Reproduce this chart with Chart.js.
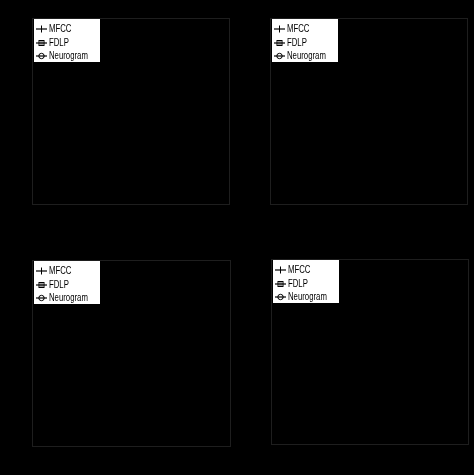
<!DOCTYPE html>
<html>
<head>
<meta charset="utf-8">
<script src="https://cdn.jsdelivr.net/npm/chart.js@4.4.1/dist/chart.umd.min.js"></script>
<style>
  html, body { margin: 0; padding: 0; background: #000; }
  body { width: 474px; height: 475px; position: relative; overflow: hidden; }
  .panel { position: absolute; width: 237px; height: 238px; }
  canvas { display: block; }
</style>
</head>
<body>
<div class="panel" style="left:0;top:0"><canvas id="c1" width="237" height="237"></canvas></div>
<div class="panel" style="left:237px;top:0"><canvas id="c2" width="237" height="237"></canvas></div>
<div class="panel" style="left:0;top:237px"><canvas id="c3" width="237" height="238"></canvas></div>
<div class="panel" style="left:237px;top:237px"><canvas id="c4" width="237" height="238"></canvas></div>
<script>
// Data (series are drawn in black on black, as in the reference)
const seriesNames = ["MFCC", "FDLP", "Neurogram"];
const snrLevels = [0, 10, 20, 30];
const yTicks = [0, 20, 40, 60, 80, 100];

const panel1MFCC = [35, 55, 70, 80];
const panel1FDLP = [40, 60, 74, 83];
const panel1Neuro = [50, 66, 78, 86];

const panel2MFCC = [30, 50, 66, 78];
const panel2FDLP = [36, 56, 70, 81];
const panel2Neuro = [46, 63, 75, 84];

const panel3MFCC = [25, 45, 62, 75];
const panel3FDLP = [30, 50, 66, 78];
const panel3Neuro = [42, 58, 72, 82];

const panel4MFCC = [20, 40, 58, 72];
const panel4FDLP = [26, 46, 62, 75];
const panel4Neuro = [38, 55, 69, 80];

const markerStyles = ["cross", "rect", "circle"];

const legendPlugin = {
  id: 'boxLegend',
  afterDraw(chart) {
    const ctx = chart.ctx;
    const a = chart.chartArea;
    const x0 = a.left + 2, y0 = a.top + 1;
    const w = 66, h = 43;
    ctx.save();
    ctx.fillStyle = '#ffffff';
    ctx.fillRect(x0, y0, w, h);
    ctx.font = '10.5px "Liberation Sans", Arial, sans-serif';
    ctx.textBaseline = 'middle';
    ctx.textAlign = 'left';
    const rows = [10, 24, 37];
    chart.data.datasets.forEach((ds, i) => {
      const y = y0 + rows[i];
      ctx.strokeStyle = '#000';
      ctx.lineWidth = 1.2;
      ctx.beginPath();
      ctx.moveTo(x0 + 2, y);
      ctx.lineTo(x0 + 13, y);
      ctx.stroke();
      const cx = x0 + 7.5;
      ctx.lineWidth = 1;
      if (ds.pointStyle === 'cross') {
        ctx.beginPath();
        ctx.moveTo(cx, y - 3.5); ctx.lineTo(cx, y + 3.5);
        ctx.stroke();
      } else if (ds.pointStyle === 'rect') {
        ctx.strokeRect(cx - 2.5, y - 2.5, 5, 5);
        ctx.fillStyle = '#444';
        ctx.fillRect(cx - 1.5, y - 1.5, 3, 3);
      } else {
        ctx.beginPath();
        ctx.arc(cx, y, 2.7, 0, Math.PI * 2);
        ctx.stroke();
      }
      ctx.save();
      ctx.translate(x0 + 15, y + 0.5);
      ctx.scale(0.74, 1);
      ctx.fillStyle = '#000';
      ctx.fillText(ds.label, 0, 0);
      ctx.restore();
    });
    ctx.restore();
  }
};

function makeChart(id, pad, values) {
  const frame = '#1e1e1e';
  const hiddenAxis = (pos, extra) => Object.assign({
    position: pos,
    grid: { display: false, drawTicks: false },
    border: { display: true, color: frame, width: 1, z: 2 },
    ticks: { display: false, z: 2 }
  }, extra);
  new Chart(document.getElementById(id), {
    type: 'line',
    data: {
      datasets: values.map((v, i) => ({
        label: seriesNames[i],
        data: snrLevels.map((s, j) => ({ x: s, y: v[j] })),
        borderColor: '#000',
        backgroundColor: '#000',
        borderWidth: 1.2,
        pointStyle: markerStyles[i],
        pointRadius: 3,
        pointBorderColor: '#000',
        pointBackgroundColor: '#000',
        tension: 0
      }))
    },
    options: {
      responsive: false,
      animation: false,
      devicePixelRatio: 1,
      layout: { padding: pad },
      plugins: { legend: { display: false }, tooltip: { enabled: false } },
      scales: {
        x: hiddenAxis('bottom', { type: 'linear', min: snrLevels[0], max: snrLevels[snrLevels.length - 1] }),
        x2: hiddenAxis('top', { type: 'linear', min: snrLevels[0], max: snrLevels[snrLevels.length - 1] }),
        y: hiddenAxis('left', { min: yTicks[0], max: yTicks[yTicks.length - 1] }),
        y2: hiddenAxis('right', { min: yTicks[0], max: yTicks[yTicks.length - 1] })
      }
    },
    plugins: [legendPlugin]
  });
}

makeChart('c1', { left: 32, top: 18, right: 8, bottom: 33 }, [panel1MFCC, panel1FDLP, panel1Neuro]);
makeChart('c2', { left: 33, top: 18, right: 7, bottom: 33 }, [panel2MFCC, panel2FDLP, panel2Neuro]);
makeChart('c3', { left: 32, top: 23, right: 7, bottom: 29 }, [panel3MFCC, panel3FDLP, panel3Neuro]);
makeChart('c4', { left: 34, top: 22, right: 6, bottom: 31 }, [panel4MFCC, panel4FDLP, panel4Neuro]);
</script>
</body>
</html>
